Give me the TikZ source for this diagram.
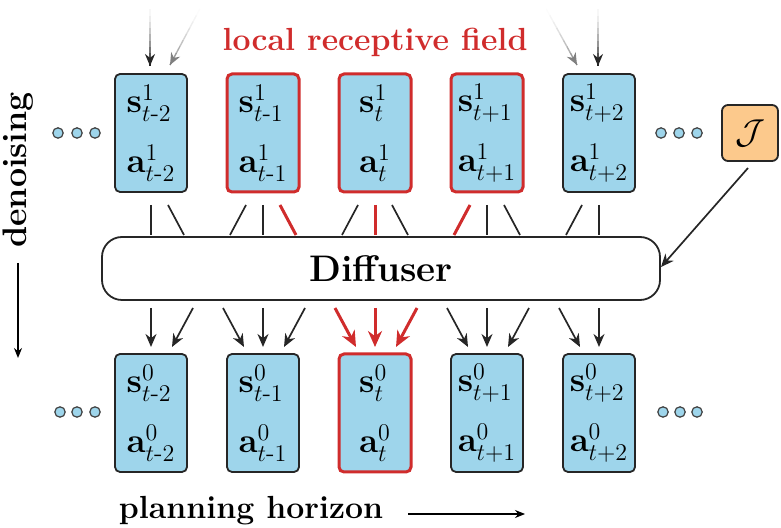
\documentclass[tikz,border=0pt]{standalone}
\usepackage{amsmath}
\DeclareMathSizes{16}{16}{13}{10}
\usetikzlibrary{arrows.meta,calc}
\definecolor{boxblue}{RGB}{158,213,235}
\definecolor{rfred}{RGB}{208,44,44}
\definecolor{jorange}{RGB}{252,201,140}
\newcommand\fadearrow[3]{%
 \foreach \k in {0,...,9}{%
  \pgfmathsetmacro\ta{\k/10}\pgfmathsetmacro\tb{(\k+1)/10}\pgfmathtruncatemacro\cc{#3*((\k+1)/10)^2}%
  \draw[line width=0.7pt,draw=black!\cc] ($(#1)!\ta!(#2)$) -- ($(#1)!\tb!(#2)$);}%
 \draw[line width=0.7pt,draw=black!#3,-{Stealth[length=6pt,width=5pt]}] ($(#1)!0.88!(#2)$) -- (#2);}
\begin{document}
\begin{tikzpicture}[x=0.5pt,y=-0.5pt,
 cell/.style={draw=black!85,fill=boxblue,rounded corners=2.5pt,line width=0.9pt,minimum width=36pt,minimum height=59pt,inner sep=0pt,align=left,font=\fontsize{16}{30}\selectfont},
 rcell/.style={cell,draw=rfred,line width=1.5pt},
 dot/.style={circle,draw=black!75,fill=boxblue,line width=0.6pt,minimum size=5.2pt,inner sep=0pt},
 conn/.style={line width=0.85pt,draw=black!85},
 rconn/.style={line width=1.5pt,draw=rfred},
 arr/.style={conn,-{Stealth[length=6.5pt,width=5.5pt]}},
 rarr/.style={rconn,-{Stealth[length=8pt,width=7pt]}},
 thinarr/.style={line width=0.6pt,draw=black,-{Stealth[length=5pt,width=4pt]}},
 lbl/.style={font=\fontsize{16}{19}\selectfont\bfseries}]
\useasboundingbox (0,0) rectangle (781,528);
% top row
\node[cell]  (u1) at (151,133) {$\mathbf{s}^{1}_{t\text{-}2}$\\$\mathbf{a}^{1}_{t\text{-}2}$};
\node[rcell] (u2) at (263,133) {$\mathbf{s}^{1}_{t\text{-}1}$\\$\mathbf{a}^{1}_{t\text{-}1}$};
\node[rcell] (u3) at (375,133) {$\mathbf{s}^{1}_{t}$\\$\mathbf{a}^{1}_{t}$};
\node[rcell] (u4) at (487,133) {$\mathbf{s}^{1}_{t+1}$\\$\mathbf{a}^{1}_{t+1}$};
\node[cell]  (u5) at (599,133) {$\mathbf{s}^{1}_{t+2}$\\$\mathbf{a}^{1}_{t+2}$};
% bottom row
\node[cell]  (d1) at (151,413) {$\mathbf{s}^{0}_{t\text{-}2}$\\$\mathbf{a}^{0}_{t\text{-}2}$};
\node[cell]  (d2) at (263,413) {$\mathbf{s}^{0}_{t\text{-}1}$\\$\mathbf{a}^{0}_{t\text{-}1}$};
\node[rcell] (d3) at (375,413) {$\mathbf{s}^{0}_{t}$\\$\mathbf{a}^{0}_{t}$};
\node[cell]  (d4) at (487,413) {$\mathbf{s}^{0}_{t+1}$\\$\mathbf{a}^{0}_{t+1}$};
\node[cell]  (d5) at (599,413) {$\mathbf{s}^{0}_{t+2}$\\$\mathbf{a}^{0}_{t+2}$};
% diffuser
\node[draw=black!85,line width=0.9pt,rounded corners=10pt,minimum width=279pt,minimum height=31.5pt,font=\fontsize{18.5}{20}\selectfont\bfseries] (diff) at (381,268.5) {Diffuser};
% J
\node[draw=black!85,fill=jorange,rounded corners=3pt,line width=0.9pt,minimum size=28pt,inner sep=0pt,font=\fontsize{17}{18}\selectfont] (J) at (750,133) {$\mathcal{J}$};
% dots
\node[dot] (la1) at (58,133) {}; \node[dot] (la2) at (77,133) {}; \node[dot] (la3) at (95,133) {};
\node[dot] (ra1) at (661,133) {}; \node[dot] (ra2) at (679,133) {}; \node[dot] (ra3) at (697,133) {};
\node[dot] (lb1) at (60,412) {}; \node[dot] (lb2) at (77,412) {}; \node[dot] (lb3) at (95,412) {};
\node[dot] (rb1) at (663,412) {}; \node[dot] (rb2) at (680,412) {}; \node[dot] (rb3) at (697,412) {};
% labels
\node[lbl,text=rfred] (lrf) at (375,42) {local receptive field};
\node[lbl,rotate=90,font=\fontsize{17}{19}\selectfont\bfseries] (den) at (18,170) {denoising};
\node[lbl] (ph) at (251,511) {planning horizon};
\coordinate (dena) at (18,263); \coordinate (denb) at (18,358);
\draw[thinarr] (dena) -- (denb);
\coordinate (pha) at (408,514); \coordinate (phb) at (525,514);
\draw[thinarr] (pha) -- (phb);
% coordinates for short connectors
\foreach \n/\x in {1/151,2/263,3/375,4/487,5/599}{
 \coordinate (ml\n a) at (\x-17,205); \coordinate (ml\n b) at (\x-33,235);
 \coordinate (mc\n a) at (\x,205);    \coordinate (mc\n b) at (\x,235);
 \coordinate (mr\n a) at (\x+17,205); \coordinate (mr\n b) at (\x+33,235);
 \coordinate (bl\n a) at (\x-40,308); \coordinate (bl\n b) at (\x-19,347);
 \coordinate (bc\n a) at (\x,308);    \coordinate (bc\n b) at (\x,347);
 \coordinate (br\n a) at (\x+42,308); \coordinate (br\n b) at (\x+21,347);
}
% top row to diffuser
\draw[conn] (mc1a) -- (mc1b); \draw[conn] (mr1a) -- (mr1b);
\draw[conn] (ml2a) -- (ml2b); \draw[conn] (mc2a) -- (mc2b); \draw[rconn] (mr2a) -- (mr2b);
\draw[conn] (ml3a) -- (ml3b); \draw[rconn] (mc3a) -- (mc3b); \draw[conn] (mr3a) -- (mr3b);
\draw[rconn] (ml4a) -- (ml4b); \draw[conn] (mc4a) -- (mc4b); \draw[conn] (mr4a) -- (mr4b);
\draw[conn] (ml5a) -- (ml5b); \draw[conn] (mc5a) -- (mc5b);
% diffuser to bottom row
\draw[arr] (bc1a) -- (bc1b); \draw[arr] (br1a) -- (br1b);
\draw[arr] (bl2a) -- (bl2b); \draw[arr] (bc2a) -- (bc2b); \draw[arr] (br2a) -- (br2b);
\draw[rarr] (bl3a) -- (bl3b); \draw[rarr] (bc3a) -- (bc3b); \draw[rarr] (br3a) -- (br3b);
\draw[arr] (bl4a) -- (bl4b); \draw[arr] (bc4a) -- (bc4b); \draw[arr] (br4a) -- (br4b);
\draw[arr] (bl5a) -- (bl5b); \draw[arr] (bc5a) -- (bc5b);
% J to diffuser
\coordinate (js) at (748,168); \coordinate (jt) at (661,267);
\draw[arr] (js) -- (jt);
% faded arrows from above
\coordinate (t1a) at (150,3); \coordinate (t1b) at (150,66);
\coordinate (t2a) at (203,3); \coordinate (t2b) at (170,65);
\coordinate (t5a) at (543,3); \coordinate (t5b) at (577,65);
\coordinate (t6a) at (598,3); \coordinate (t6b) at (598,66);
\fadearrow{t1a}{t1b}{85}
\fadearrow{t2a}{t2b}{50}
\fadearrow{t5a}{t5b}{50}
\fadearrow{t6a}{t6b}{85}
\end{tikzpicture}
\end{document}
